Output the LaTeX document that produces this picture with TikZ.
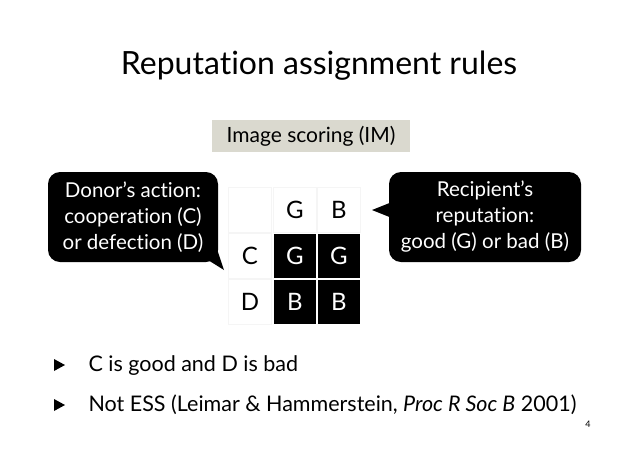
\documentclass[tikz,border=0pt]{standalone}
\usepackage{fontspec}
\setmainfont[Ligatures=NoCommon]{Lato}
\definecolor{imgray}{HTML}{DAD9CF}
\begin{document}
\begin{tikzpicture}[x=1pt,y=-1pt,
  cell/.style={minimum width=43pt,minimum height=45pt,inner sep=0pt,font=\fontsize{24}{28}\selectfont},
  wcell/.style={cell,fill=white,draw=black!4,line width=0.5pt},
  bcell/.style={cell,fill=black,text=white,draw=white,line width=1.5pt},
  bubble/.style={fill=black,text=white,rounded corners=12pt,align=center,inner sep=0pt,font=\fontsize{20.5}{26}\selectfont},
  bul/.style={anchor=west,font=\fontsize{21.5}{25}\selectfont}]
\useasboundingbox (0,0) rectangle (638,451);
\node (title) at (319,66) {\fontsize{32}{36}\selectfont Reputation assignment rules};
\node[fill=imgray,minimum width=198pt,minimum height=32pt,font=\fontsize{21}{24}\selectfont] (im) at (311,136) {Image scoring (IM)};
% table
\node[wcell] (c00) at (250,210) {};
\node[wcell] (c01) at (295,210) {G};
\node[wcell] (c02) at (339,210) {B};
\node[wcell] (c10) at (250,256) {C};
\node[bcell] (c11) at (295,256) {G};
\node[bcell] (c12) at (339,256) {G};
\node[wcell] (c20) at (250,302) {D};
\node[bcell] (c21) at (295,302) {B};
\node[bcell] (c22) at (339,302) {B};
% bubbles
\coordinate (lt) at (224,270);
\coordinate (rt) at (372,210);
\fill (200,255) -- (lt) -- (214,240) -- cycle;
\fill (392,202) -- (rt) -- (392,218) -- cycle;
\node[bubble,minimum width=170pt,minimum height=90pt] (lb) at (133,217) {Donor’s action:\\cooperation (C)\\or defection (D)};
\node[bubble,minimum width=192pt,minimum height=90pt] (rb) at (485,217) {Recipient’s\\reputation:\\good (G) or bad (B)};
% bullets
\fill (54,359) -- (65,365) -- (54,371) -- cycle;
\node[bul] (b1) at (85,366) {C is good and D is bad};
\fill (54,399) -- (65,405) -- (54,411) -- cycle;
\node[bul] (b2) at (85,405) {Not ESS (Leimar \& Hammerstein, \textit{Proc R Soc B} 2001)};
\node[font=\fontsize{9}{10}\selectfont] (pg) at (588,424) {4};
\end{tikzpicture}
\end{document}
